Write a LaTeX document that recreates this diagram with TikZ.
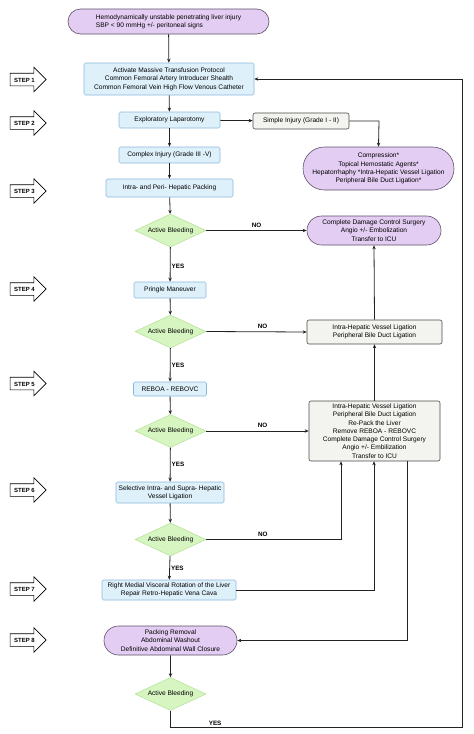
\documentclass[tikz,border=0pt]{standalone}
\usepackage{fontspec}
\setmainfont{Liberation Sans}
\usetikzlibrary{shapes.geometric,shapes.misc,shapes.arrows,arrows.meta}
\definecolor{pfill}{HTML}{E4CDF3}
\definecolor{pdraw}{HTML}{5E5068}
\definecolor{bfill}{HTML}{DEF0FA}
\definecolor{bdraw}{HTML}{8CB8DD}
\definecolor{gfill}{HTML}{F3F3EF}
\definecolor{gdraw}{HTML}{4A4A4A}
\definecolor{dfill}{HTML}{D6F5C0}
\definecolor{ddraw}{HTML}{B2E096}
\definecolor{lcol}{HTML}{222222}
\begin{document}
\begin{tikzpicture}[x=1pt,y=-1pt,
  every node/.style={font=\fontsize{6.6}{8.3}\selectfont, inner sep=0pt, align=center},
  pill/.style={rounded rectangle, draw=pdraw, fill=pfill, line width=0.6pt},
  bbox/.style={rectangle, rounded corners=1.5pt, draw=bdraw, fill=bfill, line width=0.6pt},
  gbox/.style={rectangle, rounded corners=2pt, draw=gdraw, fill=gfill, line width=0.6pt},
  dia/.style={diamond, draw=ddraw, fill=dfill, line width=0.5pt, minimum width=71pt, minimum height=33pt, aspect=2.15},
  stepar/.style={single arrow, draw=black, fill=white, line width=0.6pt, minimum height=36pt,
     single arrow head extend=6pt, text height=5pt, text depth=0pt, inner ysep=3.5pt, inner xsep=2pt,
     font=\fontsize{6}{6}\selectfont\bfseries},
  conn/.style={draw=lcol, line width=0.8pt, -{Stealth[length=4pt,width=3.4pt]}},
  line/.style={draw=lcol, line width=0.8pt},
  lab/.style={font=\fontsize{6.3}{6.3}\selectfont\bfseries}
]
\useasboundingbox (0,0) rectangle (474,734);

% step arrows
\node[stepar] (s1) at (25,79.5) {STEP 1\,};
\node[stepar] (s2) at (25,123) {STEP 2\,};
\node[stepar] (s3) at (25,191) {STEP 3\,};
\node[stepar] (s4) at (25,289) {STEP 4\,};
\node[stepar] (s5) at (25,383.5) {STEP 5\,};
\node[stepar] (s6) at (25,490) {STEP 6\,};
\node[stepar] (s7) at (25,589) {STEP 7\,};
\node[stepar] (s8) at (25,640) {STEP 8\,};

% main column
\node[pill, minimum width=201pt, minimum height=25pt, align=left] (top) at (168.5,21.5)
  {Hemodynamically unstable penetrating liver injury\\SBP < 90 mmHg +/- peritoneal signs};
\node[bbox, minimum width=170pt, minimum height=32pt] (st1) at (169,79)
  {Activate Massive Transfusion Protocol\\Common Femoral Artery Introducer Shealth\\Common Femoral Vein High Flow Venous Catheter};
\node[bbox, minimum width=101pt, minimum height=16pt] (expl) at (169.5,120) {Exploratory Laparotomy};
\node[gbox, minimum width=96pt, minimum height=16pt] (simple) at (301,121) {Simple Injury (Grade I - II)};
\node[pill, minimum width=151pt, minimum height=43pt] (comp) at (378.5,168.5)
  {Compression*\\Topical Hemostatic Agents*\\Hepatorrhaphy *Intra-Hepatic Vessel Ligation\\Peripheral Bile Duct Ligation*};
\node[bbox, minimum width=101pt, minimum height=16pt] (complex) at (169.5,155) {Complex Injury (Grade III -V)};
\node[bbox, minimum width=127pt, minimum height=18pt] (pack) at (169.5,188) {Intra- and Peri- Hepatic Packing};
\node[dia] (d1) at (170.5,230.5) {Active Bleeding};
\node[pill, minimum width=134pt, minimum height=29pt] (dcs) at (374,230.5)
  {Complete Damage Control Surgery\\Angio +/- Embolization\\Transfer to ICU};
\node[bbox, minimum width=72pt, minimum height=16pt] (pringle) at (170,290) {Pringle Maneuver};
\node[dia] (d2) at (170.5,331.5) {Active Bleeding};
\node[gbox, minimum width=135pt, minimum height=24pt] (ihv) at (374.5,332)
  {Intra-Hepatic Vessel Ligation\\Peripheral Bile Duct Ligation};
\node[bbox, minimum width=73pt, minimum height=14pt] (reboa) at (170,389) {REBOA - REBOVC};
\node[dia] (d3) at (170.5,431) {Active Bleeding};
\node[gbox, minimum width=131pt, minimum height=60pt] (big) at (374.5,431)
  {Intra-Hepatic Vessel Ligation\\Peripheral Bile Duct Ligation\\Re-Pack the Liver\\Remove REBOA - REBOVC\\Complete Damage Control Surgery\\Angio +/- Embilization\\Transfer to ICU};
\node[bbox, minimum width=108pt, minimum height=21pt] (sel) at (170,492.5)
  {Selective Intra- and Supra- Hepatic\\Vessel Ligation};
\node[dia] (d4) at (170.5,539.5) {Active Bleeding};
\node[bbox, minimum width=134pt, minimum height=20pt] (rmv) at (169,590)
  {Right Medial Visceral Rotation of the Liver\\Repair Retro-Hepatic Vena Cava};
\node[pill, minimum width=133pt, minimum height=29pt] (prem) at (170.5,640.5)
  {Packing Removal\\Abdominal Washout\\Definitive Abdominal Wall Closure};
\node[dia] (d5) at (170.5,694) {Active Bleeding};

% coordinates
\coordinate (c1) at (379,121);
\coordinate (c2) at (462,727);
\coordinate (c3) at (462,79);
\coordinate (c4) at (341,539.5);
\coordinate (c5) at (374,590);
\coordinate (c6) at (407,640.5);
\coordinate (c7) at (170.5,727);

% vertical main flow
\draw[conn] (top) -- (st1);
\draw[conn] (st1) -- (expl);
\draw[conn] (expl) -- (complex);
\draw[conn] (complex) -- (pack);
\draw[conn] (pack) -- (d1);
\draw[conn] (d1) -- node[lab, right=1pt, pos=0.55] {YES} (pringle);
\draw[conn] (pringle) -- (d2);
\draw[conn] (d2) -- node[lab, right=1pt, pos=0.5] {YES} (reboa);
\draw[conn] (reboa) -- (d3);
\draw[conn] (d3) -- node[lab, right=1pt, pos=0.5] {YES} (sel);
\draw[conn] (sel) -- (d4);
\draw[conn] (d4) -- node[lab, right=1pt, pos=0.5] {YES} (rmv);
\draw[conn] (prem) -- (d5);

% side branches
\draw[conn] (expl) -- (simple);
\draw[conn] (simple.east) -- (c1) -- (comp.north);
\draw[conn] (d1.east) -- node[lab, above=3pt, pos=0.5] {NO} (dcs.west);
\draw[conn] (d2.east) -- node[lab, above=3pt, pos=0.56] {NO} (ihv.west);
\draw[conn] (d3.east) -- node[lab, above=3pt, pos=0.55] {NO} (big.west);
\draw[conn] (ihv.north) -- (dcs.south);
\draw[conn] (big.north) -- (ihv.south);
\draw[conn] (d4.east) -- node[lab, above=3pt, pos=0.42] {NO} (c4) -- (c4 |- big.south);
\draw[conn] (rmv.east) -- (c5) -- (c5 |- big.south);
\draw[conn] (c6 |- big.south) -- (c6) -- (prem.east);
\draw[conn] (d5.south) -- (c7) -- node[lab, above=1.5pt, pos=0.153] {YES} (c2) -- (c3) -- (st1.east);
\end{tikzpicture}
\end{document}
